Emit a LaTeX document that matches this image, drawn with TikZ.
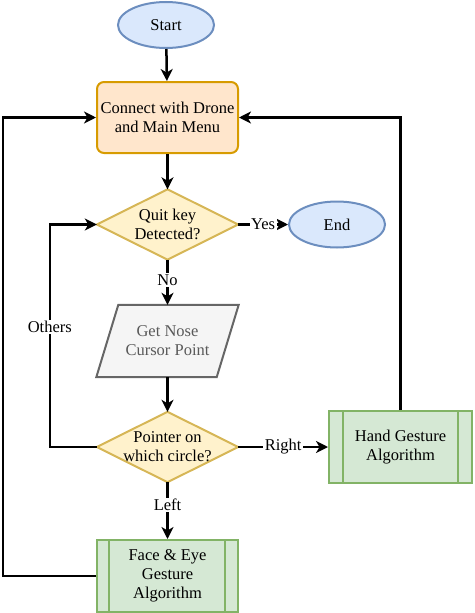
\documentclass[tikz,border=0pt]{standalone}
\usepackage{fontspec}
\setmainfont{Liberation Serif}
\usetikzlibrary{arrows.meta,backgrounds,calc,shapes.geometric}
\definecolor{bluef}{HTML}{DAE8FC}
\definecolor{blued}{HTML}{6C8EBF}
\definecolor{orgf}{HTML}{FFE6CC}
\definecolor{orgd}{HTML}{D79B00}
\definecolor{yelf}{HTML}{FFF2CC}
\definecolor{yeld}{HTML}{D6B656}
\definecolor{grnf}{HTML}{D5E8D4}
\definecolor{grnd}{HTML}{82B366}
\definecolor{grayf}{HTML}{F5F5F5}
\definecolor{grayd}{HTML}{666666}
\begin{document}
\begin{tikzpicture}[x=1pt,y=-1pt,
  every node/.style={font=\fontsize{16.5}{19}\selectfont, align=center, inner sep=0pt},
  term/.style={ellipse, draw=blued, fill=bluef, line width=2pt, minimum width=96pt, minimum height=46pt},
  proc/.style={rectangle, rounded corners=7pt, draw=orgd, fill=orgf, line width=2pt, minimum width=141pt, minimum height=71pt},
  dbox/.style={rectangle, minimum width=141pt, minimum height=70pt},
  dshape/.style={draw=yeld, fill=yelf, line width=2pt, line join=miter},
  subp/.style={rectangle, draw=grnd, fill=grnf, line width=2pt},
  subline/.style={draw=grnd, line width=2pt},
  flow/.style={line width=2.5pt, -{Stealth[length=12pt,width=12pt,inset=3.5pt]}},
  lbl/.style={fill=white, inner sep=1.5pt}]
\useasboundingbox (0,0) rectangle (474,613);

\node[term] (start) at (166,25) {Start};
\node[proc] (conn) at (167.5,117.5) {Connect with Drone\\and Main Menu};
\node[dbox] (quit) at (167.5,224.5) {Quit key\\Detected?};
\node[term] (end) at (337,224.5) {End};
\node[rectangle, minimum width=120pt, minimum height=72pt, text=black!65] (nose) at (167.5,341) {Get Nose\\Cursor Point};
\node[dbox] (ptr) at (167.5,447) {Pointer on\\which circle?};
\node[subp, minimum width=143pt, minimum height=72pt] (hand) at (400.5,447) {Hand Gesture\\Algorithm};
\node[subp, minimum width=141pt, minimum height=72pt] (face) at (167.5,576) {Face \& Eye\\Gesture\\Algorithm};

\begin{pgfonlayer}{background}
  \path[dshape] (quit.north) -- (quit.east) -- (quit.south) -- (quit.west) -- cycle;
  \path[dshape] (ptr.north) -- (ptr.east) -- (ptr.south) -- (ptr.west) -- cycle;
  \path[draw=grayd, fill=grayf, line width=2pt]
    ($(nose.south west)+(-11,0)$) -- ($(nose.north west)+(11,0)$) --
    ($(nose.north east)+(11,0)$) -- ($(nose.south east)+(-11,0)$) -- cycle;
\end{pgfonlayer}

\path[subline] ($(hand.north west)+(15,0)$) -- ($(hand.south west)+(15,0)$);
\path[subline] ($(hand.north east)+(-15,0)$) -- ($(hand.south east)+(-15,0)$);
\path[subline] ($(face.north west)+(13,0)$) -- ($(face.south west)+(13,0)$);
\path[subline] ($(face.north east)+(-14,0)$) -- ($(face.south east)+(-14,0)$);

\draw[flow] (start) -- (conn);
\draw[flow] (conn) -- (quit.north);
\draw[flow] (quit.east) -- node[lbl]{Yes} (end);
\draw[flow] (quit.south) -- node[lbl, pos=0.45]{No} (nose);
\draw[flow] (nose) -- (ptr.north);
\draw[flow] (ptr.east) -- node[lbl]{Right} (hand);
\draw[flow] (ptr.south) -- node[lbl, pos=0.4]{Left} (face);
\draw[flow] (ptr.west) -- ++(-47,0) |- node[lbl, pos=0.27]{Others} (quit.west);
\draw[flow] (hand.north) |- (conn.east);
\draw[flow] (face.west) -- ++(-93,0) |- (conn.west);
\end{tikzpicture}
\end{document}
